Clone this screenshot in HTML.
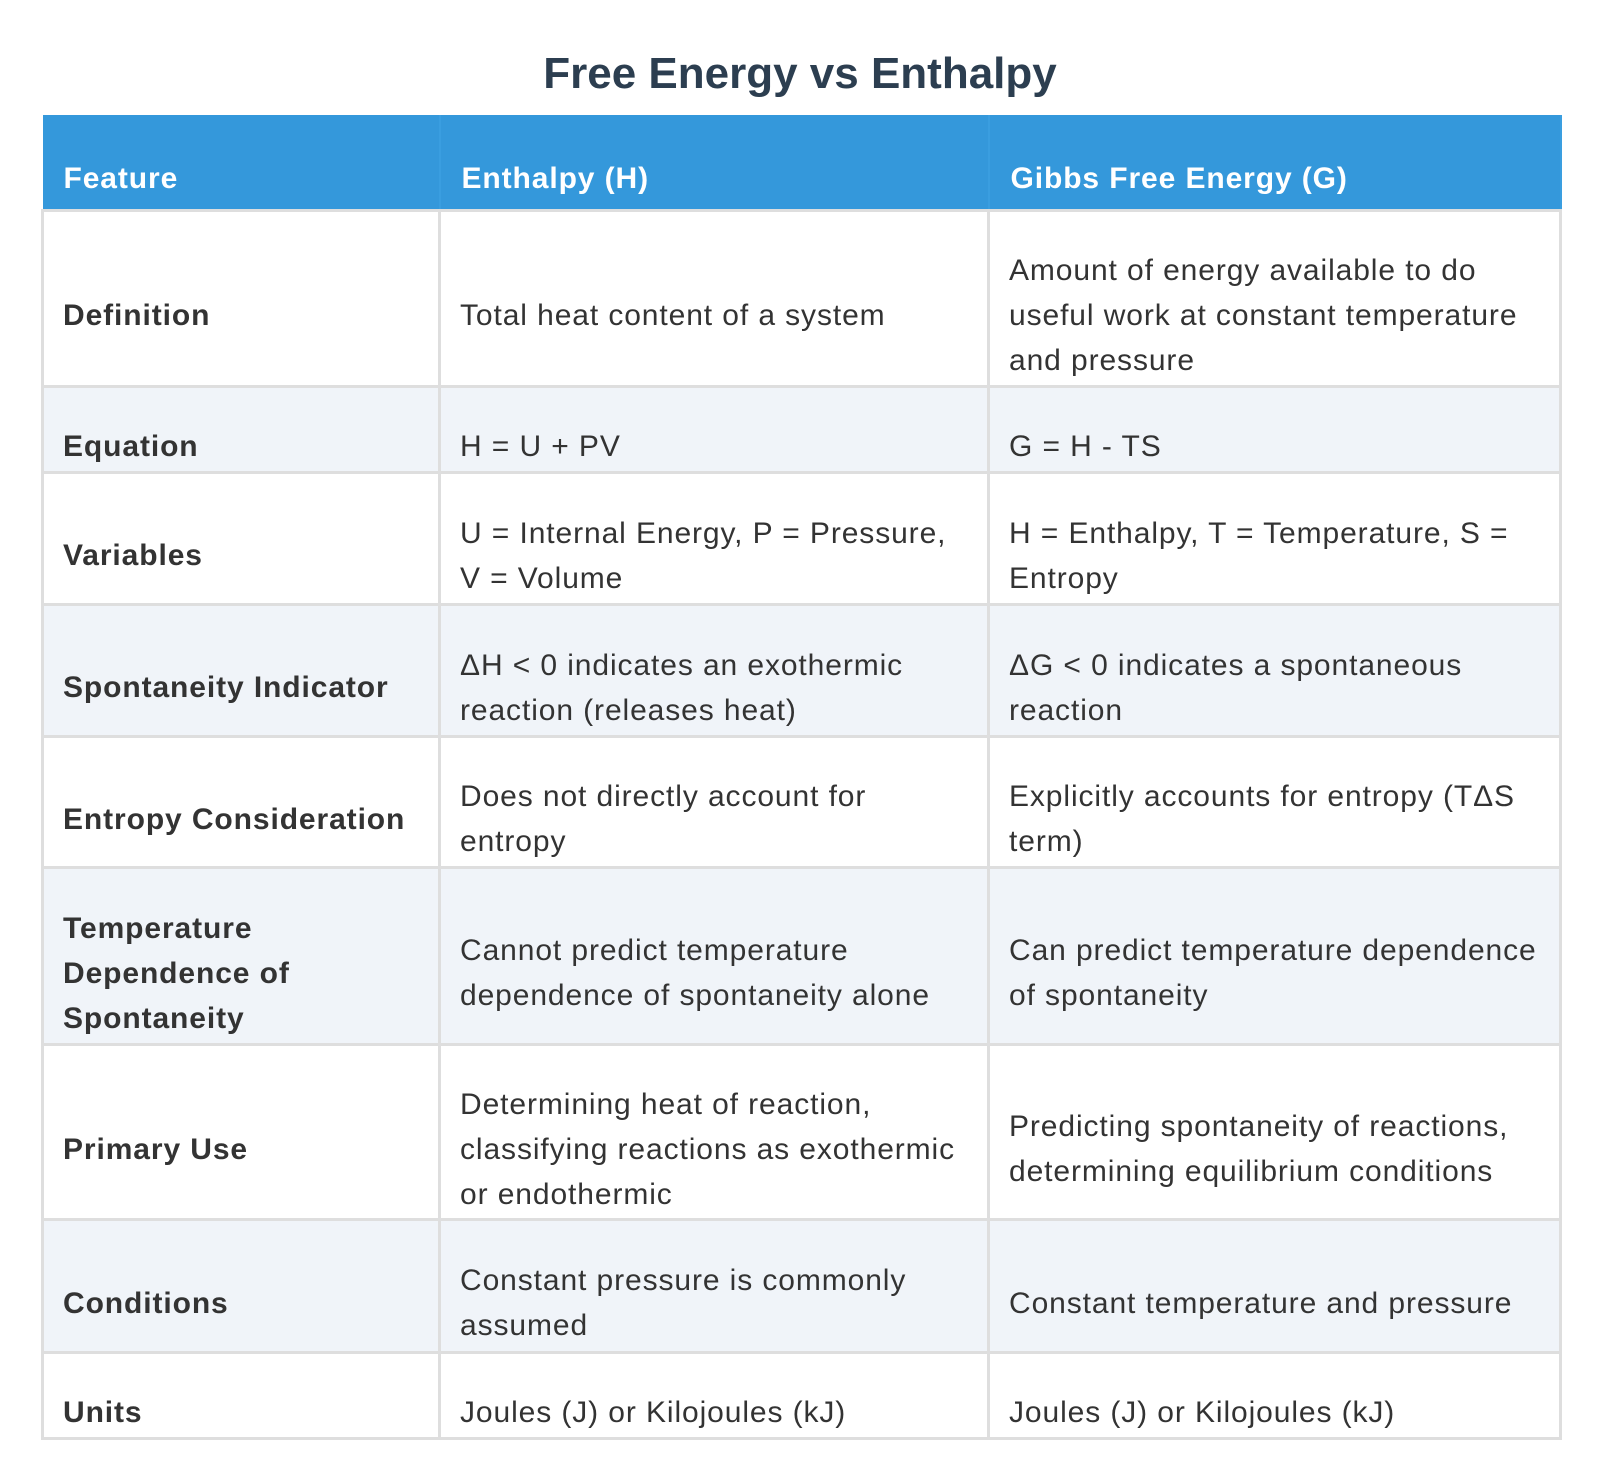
<!DOCTYPE html>
<html><head><meta charset="utf-8"><style>
body{margin:0;background:#fff;width:1600px;height:1480px;font-family:"Liberation Sans",Arial,sans-serif;}
h1{position:absolute;top:44px;left:0;width:1600px;margin:0;text-align:center;font-size:44px;color:#2c3e50;font-weight:bold;line-height:60px;}
table{position:absolute;left:41px;top:115px;width:1518px;border-collapse:collapse;table-layout:fixed;}
th{background:#3498db;color:#fff;text-align:left;font-size:30px;letter-spacing:0.9px;font-weight:bold;padding:38px 18px 4px 21px;height:52px;border-right:2px solid #3a9ee0;}
td{font-size:30px;letter-spacing:0.9px;line-height:45px;color:#333;padding:34px 16px 0 19px;border:3px solid #dedede;vertical-align:middle;}
td:first-child{font-weight:bold;}
tr:nth-child(odd) td{background:#f0f4f9;}
</style></head><body>
<h1>Free Energy vs Enthalpy</h1>
<table>
<colgroup><col style="width:397px"><col style="width:549px"><col style="width:572px"></colgroup>
<tr><th>Feature</th><th>Enthalpy (H)</th><th>Gibbs Free Energy (G)</th></tr>
<tr style="height:176px"><td>Definition</td><td>Total heat content of a system</td><td>Amount of energy available to do useful work at constant temperature and pressure</td></tr>
<tr style="height:86px"><td>Equation</td><td>H = U + PV</td><td>G = H - TS</td></tr>
<tr style="height:132px"><td>Variables</td><td>U = Internal Energy, P = Pressure, V = Volume</td><td>H = Enthalpy, T = Temperature, S = Entropy</td></tr>
<tr style="height:132px"><td>Spontaneity Indicator</td><td>ΔH &lt; 0 indicates an exothermic reaction (releases heat)</td><td>ΔG &lt; 0 indicates a spontaneous reaction</td></tr>
<tr style="height:131px"><td>Entropy Consideration</td><td>Does not directly account for entropy</td><td>Explicitly accounts for entropy (TΔS term)</td></tr>
<tr style="height:177px"><td>Temperature Dependence of Spontaneity</td><td>Cannot predict temperature dependence of spontaneity alone</td><td>Can predict temperature dependence of spontaneity</td></tr>
<tr style="height:175px"><td>Primary Use</td><td>Determining heat of reaction, classifying reactions as exothermic or endothermic</td><td>Predicting spontaneity of reactions, determining equilibrium conditions</td></tr>
<tr style="height:133px"><td>Conditions</td><td>Constant pressure is commonly assumed</td><td>Constant temperature and pressure</td></tr>
<tr style="height:86px"><td>Units</td><td>Joules (J) or Kilojoules (kJ)</td><td>Joules (J) or Kilojoules (kJ)</td></tr>
</table>
</body></html>
